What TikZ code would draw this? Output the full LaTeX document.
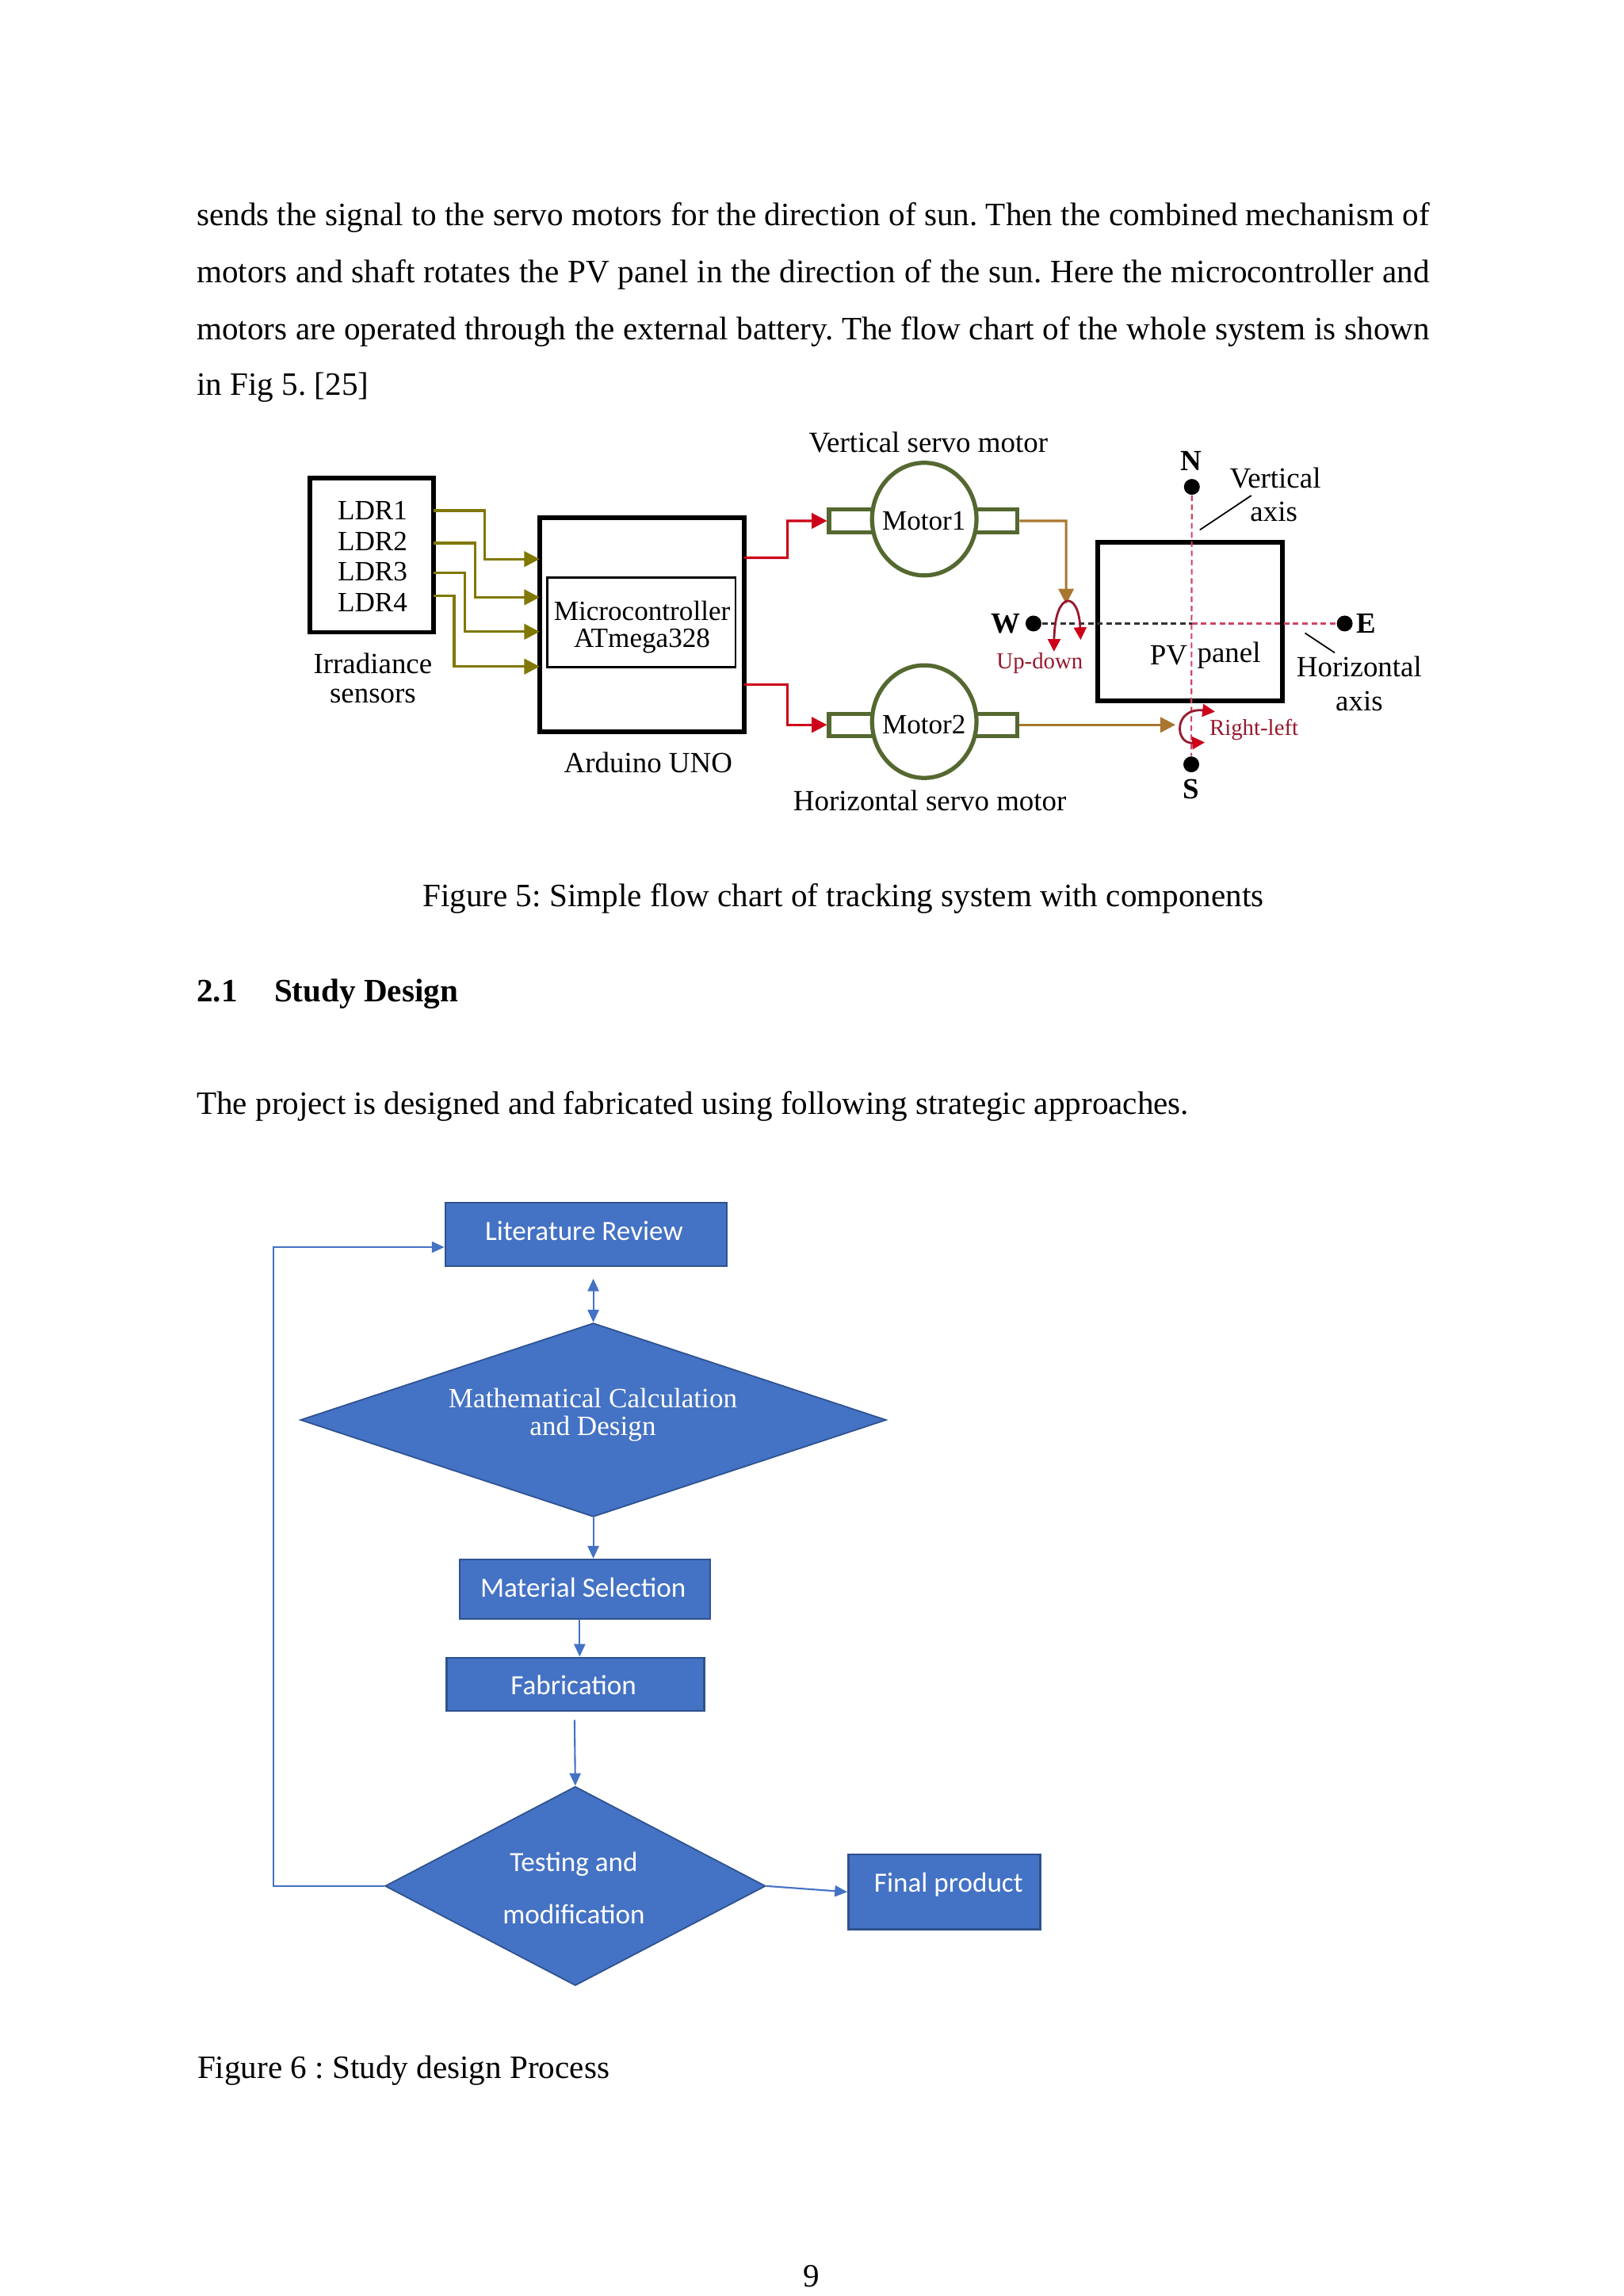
\documentclass[tikz,border=0pt]{standalone}
\usepackage{fontspec}
\setmainfont{Liberation Serif}
\newfontfamily\calfont{Carlito}
\frenchspacing
\usetikzlibrary{arrows.meta,shapes.geometric,fit}
\definecolor{fcblue}{RGB}{68,114,196}
\definecolor{fcborder}{RGB}{47,82,143}
\definecolor{olivec}{RGB}{128,120,0}
\definecolor{brownc}{RGB}{168,118,48}
\definecolor{redc}{RGB}{205,0,25}
\definecolor{darkredc}{RGB}{150,25,45}
\definecolor{motorgreen}{RGB}{84,104,48}
\definecolor{pinkc}{RGB}{205,70,100}
\begin{document}
\begin{tikzpicture}[x=0.018467cm, y=-0.018467cm,
  body/.style={inner sep=0pt, font=\fontsize{11.7}{14}\selectfont},
  lbl/.style={inner sep=0pt, font=\fontsize{10.5}{12}\selectfont},
  sml/.style={inner sep=0pt, font=\fontsize{10}{12}\selectfont},
  tinyred/.style={inner sep=0pt, font=\fontsize{8.2}{10}\selectfont, text=darkredc},
  compass/.style={inner sep=0pt, font=\bfseries\fontsize{10.5}{12}\selectfont},
  compassdot/.style={circle, fill=black, inner sep=0pt, minimum size=0.2cm},
  thickbox/.style={draw, line width=1.6pt, inner sep=0pt},
  motorrect/.style={draw=motorgreen, line width=1.5pt, inner sep=0pt},
  motorring/.style={ellipse, draw=motorgreen, line width=1.5pt, fill=white, inner sep=0pt, minimum width=1.317cm, minimum height=1.42cm},
  oarr/.style={draw=olivec, line width=0.9pt, -{Triangle[length=5.5pt,width=5.5pt]}},
  rarr/.style={draw=redc, line width=0.9pt, -{Triangle[length=5.5pt,width=5.5pt]}},
  barr/.style={draw=brownc, line width=0.9pt, -{Triangle[length=5.5pt,width=5.5pt]}},
  rot/.style={draw=darkredc, line width=0.8pt, {Triangle[length=4.5pt,width=4.5pt,color=redc]}-{Triangle[length=4.5pt,width=4.5pt,color=redc]}},
  fcbox/.style={fill=fcblue, draw=fcborder, line width=0.7pt, inner sep=0pt},
  fcdia/.style={diamond, fill=fcblue, draw=fcborder, line width=0.5pt, inner sep=0pt},
  fcarr/.style={draw=fcblue, line width=0.6pt, -{Triangle[length=4.5pt,width=4pt]}},
  fctxt/.style={text=white, inner sep=0pt, font=\calfont\fontsize{10}{12}\selectfont},
  fcser/.style={text=white, inner sep=0pt, font=\fontsize{10}{12}\selectfont}]
\fill[white] (0,0) rectangle (1109,1568);
\useasboundingbox (0,0) rectangle (1109,1568);

% ---------- paragraph ----------
\node[body, anchor=base west] (p1) at (134,154.3) {\makebox[15.55cm][s]{sends the signal to the servo motors for the direction of sun. Then the combined mechanism of}};
\node[body, anchor=base west] (p2) at (134,193.1) {\makebox[15.55cm][s]{motors and shaft rotates the PV panel in the direction of the sun. Here the microcontroller and}};
\node[body, anchor=base west] (p3) at (134,231.9) {\makebox[15.55cm][s]{motors are operated through the external battery. The flow chart of the whole system is shown}};
\node[body, anchor=base west] (p4) at (134,269.8) {in Fig 5. [25]};

% ---------- figure 5 ----------
\node[thickbox, fit={(211.7,326.4) (296.1,431.7)}] (ldr) {};
\node[sml] (ldr1) at (254.5,348.4) {LDR1};
\node[sml] (ldr2) at (254.5,369.7) {LDR2};
\node[sml] (ldr3) at (254.5,390.2) {LDR3};
\node[sml] (ldr4) at (254.5,411.5) {LDR4};
\node[lbl] (irr1) at (254.7,453) {Irradiance};
\node[lbl] (irr2) at (254.7,475.6) {sensors};

\node[thickbox, fit={(368.6,353.4) (508.5,499.6)}] (ard) {};
\node[draw, line width=0.8pt, inner sep=0pt, fit={(374,394.4) (502.5,455.8)}] (mcu) {};
\node[sml] (mcu1) at (438.6,417) {Microcontroller};
\node[sml] (mcu2) at (438.6,437.7) {ATmega328};
\node[lbl] (ardlbl) at (442.8,521) {Arduino UNO};

% olive sensor arrows
\coordinate (s1) at (296.1,348.7); \coordinate (t1) at (368.6,381.8);
\coordinate (s2) at (296.1,370.9); \coordinate (t2) at (368.6,407.9);
\coordinate (s3) at (296.1,391.3); \coordinate (t3) at (368.6,431.4);
\coordinate (s4) at (296.1,407.0); \coordinate (t4) at (368.6,455.2);
\draw[oarr] (s1) -- (331.3,348.7) -- (331.3,381.8) -- (t1);
\draw[oarr] (s2) -- (324.7,370.9) -- (324.7,407.9) -- (t2);
\draw[oarr] (s3) -- (317.4,391.3) -- (317.4,431.4) -- (t3);
\draw[oarr] (s4) -- (310.2,407.0) -- (310.2,455.2) -- (t4);

% motors
\node[motorrect, fit={(566.4,347.8) (600,363.6)}] (m1l) {};
\node[motorrect, fit={(662,347.8) (695,363.6)}] (m1r) {};
\node[motorring] (m1) at (631.4,354.5) {};
\node[sml] (m1t) at (631.2,355.6) {Motor1};
\node[motorrect, fit={(566.4,487.4) (600,502.6)}] (m2l) {};
\node[motorrect, fit={(662,487.4) (695,502.6)}] (m2r) {};
\node[motorring] (m2) at (631.4,492.8) {};
\node[sml] (m2t) at (631.2,495) {Motor2};
\node[lbl] (vsm) at (634.2,302.3) {Vertical servo motor};
\node[lbl] (hsm) at (635.2,547) {Horizontal servo motor};

% red control lines
\coordinate (r1) at (508.5,380.9);
\coordinate (r2) at (508.5,467.5);
\draw[rarr] (r1) -- (538,380.9) -- (538,355.7) -- (m1l.west);
\draw[rarr] (r2) -- (538,467.5) -- (538,495) -- (m2l.west);

% PV panel and axes
\node[thickbox, fit={(750,370.4) (876,478.7)}] (pv) {};
\node[lbl, anchor=east] (pvt1) at (811.5,447.5) {PV};
\node[lbl, anchor=west] (pvt2) at (817.5,447.5) {panel};
\node[compassdot] (ndot) at (814.2,332.5) {};
\node[compassdot] (sdot) at (813.8,522) {};
\node[compassdot] (wdot) at (706,425.8) {};
\node[compassdot] (edot) at (918.6,425.8) {};
\node[compass] (nlbl) at (813.5,315) {N};
\node[compass] (slbl) at (813.8,538.8) {S};
\node[compass] (wlbl) at (687,425.8) {W};
\node[compass] (elbl) at (933.5,425.8) {E};
\coordinate (mid) at (814.2,425.8);
\draw[pinkc, line width=0.6pt, dash pattern=on 2pt off 1.3pt] (ndot) -- (sdot);
\draw[black!80, line width=0.6pt, dash pattern=on 2pt off 1.3pt] (wdot) -- (mid);
\draw[pinkc, line width=0.6pt, dash pattern=on 2pt off 1.3pt] (mid) -- (edot);
\node[lbl] (va1) at (871.2,326.7) {Vertical};
\node[lbl] (va2) at (870.2,349.5) {axis};
\draw[line width=0.5pt] (819.6,361.9) -- (854.8,338.4);
\node[lbl] (ha1) at (928.5,455.5) {Horizontal};
\node[lbl] (ha2) at (928.5,479) {axis};
\draw[line width=0.5pt] (891.5,432.3) -- (911.8,445.8);

% brown drive lines and rotation arrows
\coordinate (ud) at (728.3,412.5);
\coordinate (rl) at (803,495);
\draw[barr] (m1r.east) -- (728.3,355.7) -- (ud);
\draw[barr] (m2r.east) -- (rl);
\draw[rot] (720,445) .. controls (720.5,403) and (737,403) .. (738.2,437);
\draw[rot] (830,486) .. controls (802,483) and (802,508) .. (823,507);
\node[tinyred] (udt) at (710.3,453) {Up-down};
\node[tinyred] (rlt) at (856.6,498.2) {Right-left};

\node[body, anchor=base] (cap5) at (576,619.1) {Figure 5: Simple flow chart of tracking system with components};

% ---------- section ----------
\node[body, anchor=base west, font=\bfseries\fontsize{11.7}{14}\selectfont] (secn) at (134,684.1) {2.1};
\node[body, anchor=base west, font=\bfseries\fontsize{11.7}{14}\selectfont] (sect) at (187,684.1) {Study Design};
\node[body, anchor=base west] (p5) at (134,760.8) {The project is designed and fabricated using following strategic approaches.};

% ---------- figure 6 flowchart ----------
\node[fcbox, fit={(304.2,821.2) (496.5,864.6)}] (lit) {};
\node[fctxt] (litt) at (399,840.6) {Literature Review};
\node[fcdia, minimum width=7.39cm, minimum height=2.443cm] (math) at (405.3,969.7) {};
\node[fcser] (matht1) at (405,955) {Mathematical Calculation};
\node[fcser] (matht2) at (405,975.6) {and Design};
\node[fcbox, fit={(314,1065) (485,1105.5)}] (mat) {};
\node[fctxt] (matt) at (398.4,1084) {Material Selection};
\node[fcbox, fit={(305,1132) (481,1168.5)}] (fab) {};
\node[fctxt] (fabt) at (391.8,1150.7) {Fabrication};
\node[fcdia, minimum width=4.80cm, minimum height=2.51cm] (test) at (393,1288) {};
\node[fctxt] (testt1) at (392,1272.9) {Testing and};
\node[fctxt] (testt2) at (392,1307) {modification};
\node[fcbox, fit={(579.5,1266.5) (710.6,1317.6)}] (final) {};
\node[fctxt] (finalt) at (648,1287) {Final product};

\coordinate (dtop) at (405.3,873.2);
\draw[draw=fcblue, line width=0.6pt, {Triangle[length=4.5pt,width=4pt]}-{Triangle[length=4.5pt,width=4pt]}] (dtop) -- (math.north);
\draw[fcarr] (math.south) -- (math.south |- mat.north);
\coordinate (a3) at (396,1105.5);
\draw[fcarr] (a3) -- (a3 |- fab.north);
\coordinate (a4) at (392.5,1174.6);
\draw[fcarr] (a4) -- (test.north);
\draw[fcarr] (test.east) -- (final.west);
\coordinate (fb) at (187,851.7);
\draw[fcarr] (test.west) -| (fb) -- (fb -| lit.west);

\node[body, anchor=base west] (cap6) at (134.5,1419.6) {Figure 6 : Study design Process};
\node[body, anchor=base] (pgno) at (554.5,1562) {9};
\end{tikzpicture}
\end{document}
